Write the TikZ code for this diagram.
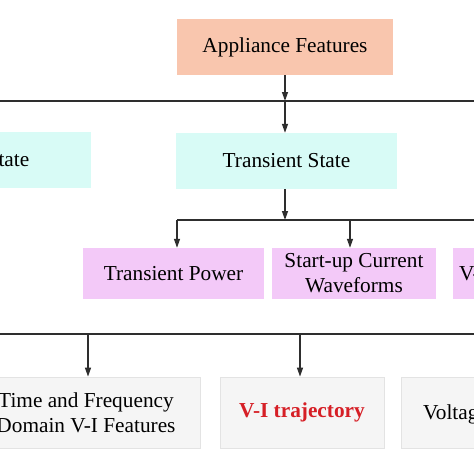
\documentclass[tikz,border=0pt]{standalone}
\usepackage{fontspec}
\setmainfont{Liberation Serif}
\usetikzlibrary{arrows.meta}
\definecolor{salmon}{HTML}{F9C6AE}
\definecolor{cyanbox}{HTML}{D8FBF6}
\definecolor{pinkbox}{HTML}{F3C9F8}
\definecolor{graybox}{HTML}{F5F5F5}
\definecolor{grayline}{HTML}{E3E3E3}
\definecolor{lineclr}{HTML}{2E2E2E}
\definecolor{redtxt}{HTML}{D61F26}
\tikzset{
  box/.style={rectangle, inner sep=0pt, align=center, font=\fontsize{21.3}{24}\selectfont, text=black},
  twoline/.style={font=\fontsize{21.3}{25}\selectfont},
  topbox/.style={box, fill=salmon},
  statebox/.style={box, fill=cyanbox},
  featbox/.style={box, fill=pinkbox},
  leafbox/.style={box, fill=graybox, draw=grayline, line width=0.8pt},
  conn/.style={draw=lineclr, line width=1.3pt},
  arr/.style={conn, -{Triangle[length=9pt,width=6pt]}}
}
\begin{document}
\begin{tikzpicture}[x=1pt,y=-1pt]
\useasboundingbox (0,0) rectangle (474,474);
\clip (0,0) rectangle (474,474);
\fill[white] (0,0) rectangle (474,474);
% nodes
\node[topbox, minimum width=216pt, minimum height=56pt] (af) at (285,47) {Appliance Features};
\node[statebox, minimum width=234pt, minimum height=56pt] (ss) at (-26,160) {};
\node[anchor=east, inner sep=0pt, font=\fontsize{21.3}{24}\selectfont] (sst) at (29.5,161) {Steady State};
\node[statebox, minimum width=221pt, minimum height=56pt] (ts) at (286.5,161) {Transient State};
\node[featbox, minimum width=181pt, minimum height=51pt] (tp) at (173.5,273.5) {Transient Power};
\node[featbox, twoline, minimum width=164pt, minimum height=51pt] (sc) at (354,273.5) {Start-up Current\\Waveforms};
\node[featbox, minimum width=164pt, minimum height=51pt, anchor=west] (vi) at (453,273.5) {};
\node[anchor=west, inner sep=0pt, font=\fontsize{21.3}{24}\selectfont] (vit) at (459,276) {V-I Trajectory};
\node[leafbox, twoline, minimum width=228pt, minimum height=71pt] (tf) at (86,412.5) {Time and Frequency\\Domain V-I Features};
\node[leafbox, minimum width=164pt, minimum height=71pt, text=redtxt, font=\fontsize{21.3}{24}\selectfont\bfseries] (vt) at (302,412.5) {V-I trajectory};
\node[leafbox, minimum width=180pt, minimum height=71pt, anchor=west] (vw) at (401,412.5) {};
\node[anchor=west, inner sep=0pt, font=\fontsize{21.3}{24}\selectfont] (vwt) at (423,414) {Voltage Waveforms};
% junction coordinates
\coordinate (j1) at (285,101);
\coordinate (l1a) at (-10,101);
\coordinate (l1b) at (490,101);
\coordinate (j2) at (285,220);
\coordinate (l2a) at (177,220);
\coordinate (l2b) at (490,220);
\coordinate (j2b) at (350,220);
\coordinate (j3a) at (88,334);
\coordinate (j3b) at (300,334);
\coordinate (l3a) at (-10,334);
\coordinate (l3b) at (490,334);
% connectors
\draw[conn] (l1a) -- (l1b);
\draw[arr] (af.south) -- (j1);
\draw[arr] (j1) -- (j1 |- ts.north);
\draw[arr] (ts.south -| j2) -- (j2);
\draw[conn] (l2a) -- (l2b);
\draw[arr] (l2a) -- (l2a |- tp.north);
\draw[arr] (j2b) -- (j2b |- sc.north);
\draw[conn] (l3a) -- (l3b);
\draw[arr] (j3a) -- (j3a |- tf.north);
\draw[arr] (j3b) -- (j3b |- vt.north);
\end{tikzpicture}
\end{document}
